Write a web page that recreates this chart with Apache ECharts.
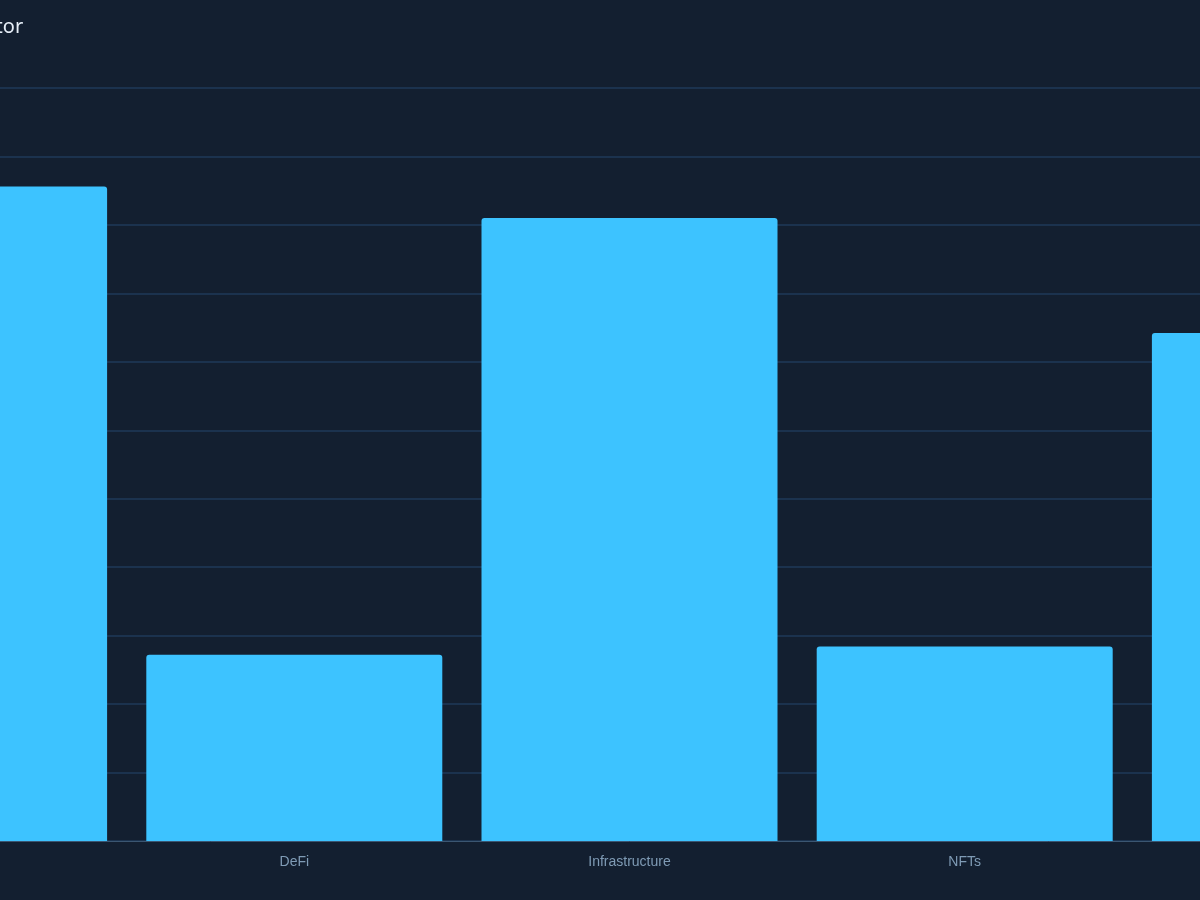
<!DOCTYPE html>
<html><head><meta charset="utf-8">
<script src="https://cdn.jsdelivr.net/npm/echarts@6/dist/echarts.min.js"></script>
<style>html,body{margin:0;padding:0;background:#131f30;overflow:hidden;width:1200px;height:900px}
#c{position:absolute;left:-300px;top:0;width:1900px;height:900px}</style></head>
<body><div id="c"></div>
<script>
const categories = ['AI', 'DeFi', 'Infrastructure', 'NFTs', 'Gaming'];
const values = [478, 136, 455, 142, 371];
const chart = echarts.init(document.getElementById('c'));
chart.setOption({
  backgroundColor: '#131f30',
  title: { text: 'Funding by Sector', left: 149, top: 12, textStyle: { color: '#e6eef7', fontSize: 20, fontWeight: 'normal', fontFamily: 'Noto Sans' } },
  grid: { left: 91.5, right: 132.5, top: 88, bottom: 59 },
  xAxis: { type: 'category', data: categories,
    axisLine: { lineStyle: { color: '#3b5672' } }, axisTick: { show: false },
    axisLabel: { color: '#7f9bb5', fontSize: 14, margin: 14 } },
  yAxis: { type: 'value', min: 0, max: 550, interval: 50,
    axisLabel: { color: '#7f9bb5' },
    splitLine: { lineStyle: { color: '#1f3a58', width: 1.5 } } },
  series: [{ type: 'bar', data: values, barWidth: 296,
    itemStyle: { color: '#3dc3ff', borderRadius: [3, 3, 0, 0] } }]
});
</script></body></html>
